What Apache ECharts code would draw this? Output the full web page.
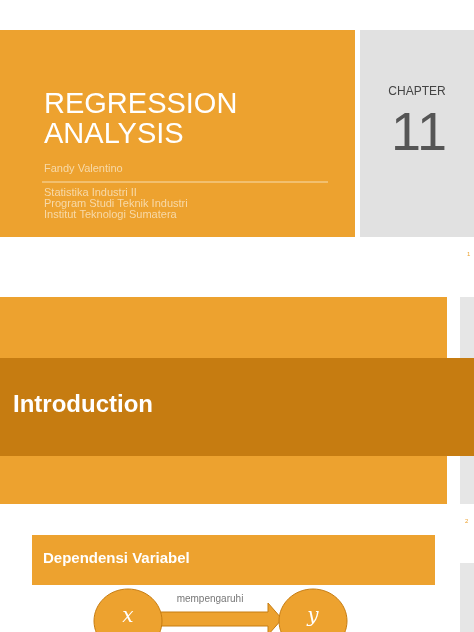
<!DOCTYPE html>
<html><head><meta charset="utf-8">
<script src="https://cdn.jsdelivr.net/npm/echarts@6/dist/echarts.min.js"></script>
<style>html,body{margin:0;padding:0;background:#fff}#c{width:474px;height:632px}</style>
</head><body><div id="c"></div>
<script>
const titleLines = ["REGRESSION", "ANALYSIS"];
const author = "Fandy Valentino";
const affiliation = ["Statistika Industri II", "Program Studi Teknik Industri", "Institut Teknologi Sumatera"];
const chapterLabel = "CHAPTER";
const chapterNumber = "11";
const sectionTitle = "Introduction";
const subTitle = "Dependensi Variabel";
const variables = ["x", "y"];
const relation = "mempengaruhi";
const pageNumbers = ["1", "2"];

const ORANGE = '#EDA22F', DARK = '#C67C11', GRAY = '#E1E1E1';
const F = 'Liberation Sans Narrow, Arial Narrow, Liberation Sans, sans-serif';
const g = [];
// Slide 1
g.push({type:'rect', shape:{x:0,y:30,width:355,height:207}, style:{fill:ORANGE}});
g.push({type:'rect', shape:{x:360,y:30,width:114,height:207}, style:{fill:GRAY}});
titleLines.forEach((t,i)=>g.push({type:'text', x:44, y:90+i*30, style:{text:t, fill:'#fff', font:'29px '+F}}));
g.push({type:'text', x:44, y:163, style:{text:author, fill:'#F7D9A8', font:'11px '+F}});
g.push({type:'line', shape:{x1:42,y1:182,x2:328,y2:182}, style:{stroke:'#F7DDB0', lineWidth:1}});
affiliation.forEach((t,i)=>g.push({type:'text', x:44, y:187+i*11, style:{text:t, fill:'#F7D9A8', font:'11px '+F}}));
g.push({type:'text', x:417, y:86, style:{text:chapterLabel, fill:'#444', font:'12px '+F, align:'center'}});
g.push({type:'text', x:419, y:108, style:{text:chapterNumber, fill:'#555', font:'54px '+F, align:'center'}});
g.push({type:'text', x:467, y:251, style:{text:pageNumbers[0], fill:ORANGE, font:'6px '+F}});
// Slide 2
g.push({type:'rect', shape:{x:0,y:297,width:447,height:207}, style:{fill:ORANGE}});
g.push({type:'rect', shape:{x:460,y:297,width:14,height:207}, style:{fill:'#E6E6E6'}});
g.push({type:'rect', shape:{x:0,y:358,width:474,height:98}, style:{fill:DARK}});
g.push({type:'text', x:13, y:393, style:{text:sectionTitle, fill:'#fff', font:'bold 24px '+F}});
g.push({type:'text', x:465, y:518, style:{text:pageNumbers[1], fill:ORANGE, font:'6px '+F}});
// Slide 3
g.push({type:'rect', shape:{x:460,y:563,width:14,height:69}, style:{fill:'#E6E6E6'}});
g.push({type:'rect', shape:{x:32,y:535,width:403,height:50}, style:{fill:ORANGE}});
g.push({type:'text', x:43, y:551, style:{text:subTitle, fill:'#fff', font:'bold 15px '+F}});
g.push({type:'polygon', shape:{points:[[160,612],[268,612],[268,603],[282,619],[268,635],[268,626],[160,626]]}, style:{fill:ORANGE, stroke:DARK, lineWidth:1}});
g.push({type:'ellipse', shape:{cx:128,cy:621,rx:34,ry:32}, style:{fill:ORANGE, stroke:DARK, lineWidth:1}});
g.push({type:'ellipse', shape:{cx:313,cy:621,rx:34,ry:32}, style:{fill:ORANGE, stroke:DARK, lineWidth:1}});
g.push({type:'text', x:128, y:607, style:{text:variables[0], fill:'#fff', font:'italic 20px DejaVu Serif, serif', align:'center'}});
g.push({type:'text', x:313, y:607, style:{text:variables[1], fill:'#fff', font:'italic 20px DejaVu Serif, serif', align:'center'}});
g.push({type:'text', x:210, y:594, style:{text:relation, fill:'#777', font:'10px '+F, align:'center'}});

const chart = echarts.init(document.getElementById('c'));
chart.setOption({animation:false, graphic:g});
</script></body></html>
